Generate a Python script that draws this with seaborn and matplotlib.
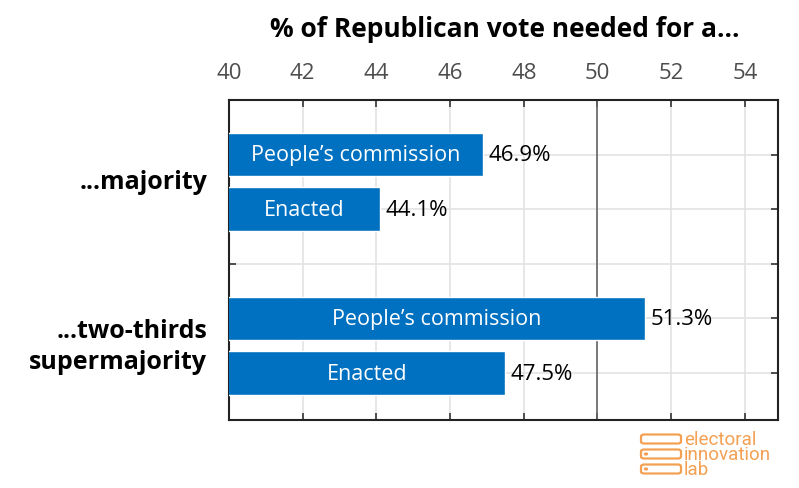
import pandas as pd
import matplotlib.pyplot as plt
import seaborn as sns
from matplotlib.patches import FancyBboxPatch, Circle

groups = ['...majority', '...two-thirds\nsupermajority']
plans = ['People\u2019s commission', 'Enacted']
majority = [46.9, 44.1]
supermajority = [51.3, 47.5]
xticks = [40, 42, 44, 46, 48, 50, 52, 54]

sns.set_style('white')
plt.rcParams['font.family'] = ['Open Sans', 'DejaVu Sans']
plt.rcParams['text.color'] = 'black'

rows = []
pos = 1
for g, vals in zip(groups, [majority, supermajority]):
    for p, v in zip(plans, vals):
        rows.append({'group': g, 'plan': p, 'value': v, 'pos': pos})
        pos += 1
    pos += 1
df = pd.DataFrame(rows)

fig = plt.figure(figsize=(7.99, 4.89), dpi=100)
ax = fig.add_axes([0.2866, 0.139, 0.6871, 0.6544])

sns.barplot(data=df, x='value', y='pos', orient='h', native_scale=True,
            width=0.8, color='#0070C0', saturation=1, ax=ax, zorder=3)

ax.set_xlim(40, 54.9)
ax.set_ylim(5.86, 0)
ax.set_xticks(xticks)
ax.set_yticks([1, 2, 3, 4, 5])
ax.set_yticklabels([])
ax.xaxis.tick_top()
ax.tick_params(axis='x', which='both', direction='in', top=True, bottom=True,
               labeltop=True, labelbottom=False, length=5, width=1.2,
               color='#333333', labelsize=16, labelcolor='#4d4d4d', pad=12)
ax.tick_params(axis='y', direction='in', left=True, right=True, length=5,
               width=1.2, color='#333333')
ax.grid(True, color='#e3e3e3', linewidth=1.2, zorder=0)
ax.set_axisbelow(True)
ax.axvline(50, color='#666666', linewidth=1.2, zorder=1)
for s in ax.spines.values():
    s.set_color('#222222')
    s.set_linewidth(1.5)
ax.set_xlabel('')
ax.set_ylabel('')

for _, r in df.iterrows():
    ax.text((40 + r['value']) / 2, r['pos'], r['plan'], color='white',
            ha='center', va='center', fontsize=15.5, zorder=4)
    ax.text(r['value'] + 0.15, r['pos'], f"{r['value']:.1f}%", color='black',
            ha='left', va='center', fontsize=16, zorder=4)

for g in groups:
    mid = df[df['group'] == g]['pos'].mean()
    ax.text(-0.04, mid, g, transform=ax.get_yaxis_transform(), ha='right',
            va='center', fontsize=18, fontweight='bold', linespacing=1.3,
            color='black')

fig.text(0.632, 0.94, '% of Republican vote needed for a...', ha='center',
         va='center', fontsize=19, fontweight='bold', color='black')

# logo
orange = '#F4A052'
for i in range(3):
    yc = 1 - (440 + i * 15) / 489
    fig.patches.append(FancyBboxPatch((641 / 799, yc - 4.5 / 489), 40 / 799, 9 / 489,
                                      boxstyle='round,pad=0,rounding_size=0.004',
                                      transform=fig.transFigure, fill=False,
                                      edgecolor=orange, linewidth=1.6))
    if i > 0:
        fig.patches.append(Circle((646 / 799, yc), 1.5 / 799, transform=fig.transFigure,
                                  color=orange))
fig.text(684 / 799, 1 - 455 / 489, 'electoral\ninnovation\nlab', color=orange,
         fontsize=13.5, ha='left', va='center', fontfamily='Roboto',
         linespacing=0.82)

fig.savefig('out.png', dpi=100)
